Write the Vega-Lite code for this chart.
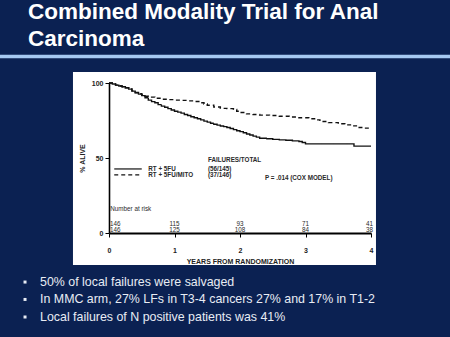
{
  "$schema": "https://vega.github.io/schema/vega-lite/v6.json",
  "width": 262,
  "height": 150,
  "autosize": {"type": "none"},
  "padding": {"left": 109, "top": 83, "right": 79, "bottom": 104},
  "background": "#0b2152",
  "data": {"values": [{"panel": "figure"}]},
  "title": {
    "text": ["Combined Modality Trial for Anal", "Carcinoma"],
    "anchor": "start",
    "frame": "group",
    "orient": "top",
    "dx": -81,
    "offset": 4,
    "font": "Liberation Sans",
    "fontSize": 22.5,
    "fontWeight": "bold",
    "color": "#ffffff",
    "lineHeight": 27
  },
  "config": {
    "view": {"stroke": null},
    "axis": {
      "labelFont": "Liberation Sans",
      "labelFontSize": 7,
      "labelFontWeight": "bold",
      "labelColor": "#222222",
      "labelOverlap": false,
      "titleFont": "Liberation Sans",
      "titleFontSize": 7,
      "titleFontWeight": "bold",
      "titleColor": "#222222",
      "domainColor": "#000000",
      "tickColor": "#000000",
      "grid": false
    },
    "text": {"font": "Liberation Sans", "fontSize": 6.3, "fontWeight": "bold", "color": "#2a2a2a"}
  },
  "datasets": {
    "survival": [
      {"year": 0, "pct": 100, "arm": "RT + 5FU"},
      {"year": 0.05, "pct": 99.3, "arm": "RT + 5FU"},
      {"year": 0.1, "pct": 98.6, "arm": "RT + 5FU"},
      {"year": 0.15, "pct": 98.0, "arm": "RT + 5FU"},
      {"year": 0.2, "pct": 97.5, "arm": "RT + 5FU"},
      {"year": 0.25, "pct": 96.8, "arm": "RT + 5FU"},
      {"year": 0.3, "pct": 95.9, "arm": "RT + 5FU"},
      {"year": 0.35, "pct": 94.6, "arm": "RT + 5FU"},
      {"year": 0.4, "pct": 93.5, "arm": "RT + 5FU"},
      {"year": 0.45, "pct": 92.6, "arm": "RT + 5FU"},
      {"year": 0.5, "pct": 91.6, "arm": "RT + 5FU"},
      {"year": 0.55, "pct": 90.2, "arm": "RT + 5FU"},
      {"year": 0.6, "pct": 88.6, "arm": "RT + 5FU"},
      {"year": 0.65, "pct": 87.6, "arm": "RT + 5FU"},
      {"year": 0.7, "pct": 86.8, "arm": "RT + 5FU"},
      {"year": 0.75, "pct": 85.6, "arm": "RT + 5FU"},
      {"year": 0.8, "pct": 84.6, "arm": "RT + 5FU"},
      {"year": 0.85, "pct": 83.8, "arm": "RT + 5FU"},
      {"year": 0.9, "pct": 82.9, "arm": "RT + 5FU"},
      {"year": 0.95, "pct": 82.0, "arm": "RT + 5FU"},
      {"year": 1.0, "pct": 81.2, "arm": "RT + 5FU"},
      {"year": 1.05, "pct": 80.6, "arm": "RT + 5FU"},
      {"year": 1.1, "pct": 79.9, "arm": "RT + 5FU"},
      {"year": 1.15, "pct": 79.0, "arm": "RT + 5FU"},
      {"year": 1.2, "pct": 78.3, "arm": "RT + 5FU"},
      {"year": 1.25, "pct": 77.5, "arm": "RT + 5FU"},
      {"year": 1.3, "pct": 76.8, "arm": "RT + 5FU"},
      {"year": 1.35, "pct": 76.2, "arm": "RT + 5FU"},
      {"year": 1.4, "pct": 75.4, "arm": "RT + 5FU"},
      {"year": 1.45, "pct": 74.6, "arm": "RT + 5FU"},
      {"year": 1.5, "pct": 73.9, "arm": "RT + 5FU"},
      {"year": 1.55, "pct": 73.2, "arm": "RT + 5FU"},
      {"year": 1.6, "pct": 72.5, "arm": "RT + 5FU"},
      {"year": 1.65, "pct": 71.9, "arm": "RT + 5FU"},
      {"year": 1.7, "pct": 71.3, "arm": "RT + 5FU"},
      {"year": 1.75, "pct": 70.9, "arm": "RT + 5FU"},
      {"year": 1.8, "pct": 70.3, "arm": "RT + 5FU"},
      {"year": 1.85, "pct": 69.7, "arm": "RT + 5FU"},
      {"year": 1.9, "pct": 68.9, "arm": "RT + 5FU"},
      {"year": 1.95, "pct": 68.2, "arm": "RT + 5FU"},
      {"year": 2.0, "pct": 67.6, "arm": "RT + 5FU"},
      {"year": 2.05, "pct": 66.8, "arm": "RT + 5FU"},
      {"year": 2.1, "pct": 66.0, "arm": "RT + 5FU"},
      {"year": 2.15, "pct": 65.3, "arm": "RT + 5FU"},
      {"year": 2.2, "pct": 64.6, "arm": "RT + 5FU"},
      {"year": 2.25, "pct": 63.9, "arm": "RT + 5FU"},
      {"year": 2.3, "pct": 63.2, "arm": "RT + 5FU"},
      {"year": 2.4, "pct": 62.8, "arm": "RT + 5FU"},
      {"year": 2.5, "pct": 62.4, "arm": "RT + 5FU"},
      {"year": 2.6, "pct": 62.1, "arm": "RT + 5FU"},
      {"year": 2.7, "pct": 61.8, "arm": "RT + 5FU"},
      {"year": 2.8, "pct": 61.4, "arm": "RT + 5FU"},
      {"year": 2.9, "pct": 61.0, "arm": "RT + 5FU"},
      {"year": 2.95, "pct": 60.3, "arm": "RT + 5FU"},
      {"year": 3.0, "pct": 59.4, "arm": "RT + 5FU"},
      {"year": 3.74, "pct": 57.9, "arm": "RT + 5FU"},
      {"year": 4.0, "pct": 57.9, "arm": "RT + 5FU"},
      {"year": 0, "pct": 100, "arm": "RT + 5FU/MITO"},
      {"year": 0.05, "pct": 99.3, "arm": "RT + 5FU/MITO"},
      {"year": 0.1, "pct": 98.6, "arm": "RT + 5FU/MITO"},
      {"year": 0.15, "pct": 98.0, "arm": "RT + 5FU/MITO"},
      {"year": 0.2, "pct": 97.5, "arm": "RT + 5FU/MITO"},
      {"year": 0.25, "pct": 96.8, "arm": "RT + 5FU/MITO"},
      {"year": 0.3, "pct": 96.0, "arm": "RT + 5FU/MITO"},
      {"year": 0.35, "pct": 94.8, "arm": "RT + 5FU/MITO"},
      {"year": 0.4, "pct": 93.7, "arm": "RT + 5FU/MITO"},
      {"year": 0.45, "pct": 92.8, "arm": "RT + 5FU/MITO"},
      {"year": 0.5, "pct": 92.0, "arm": "RT + 5FU/MITO"},
      {"year": 0.55, "pct": 91.2, "arm": "RT + 5FU/MITO"},
      {"year": 0.6, "pct": 90.6, "arm": "RT + 5FU/MITO"},
      {"year": 0.7, "pct": 89.8, "arm": "RT + 5FU/MITO"},
      {"year": 0.8, "pct": 89.2, "arm": "RT + 5FU/MITO"},
      {"year": 0.9, "pct": 88.9, "arm": "RT + 5FU/MITO"},
      {"year": 1.0, "pct": 88.6, "arm": "RT + 5FU/MITO"},
      {"year": 1.1, "pct": 88.4, "arm": "RT + 5FU/MITO"},
      {"year": 1.2, "pct": 88.1, "arm": "RT + 5FU/MITO"},
      {"year": 1.3, "pct": 87.7, "arm": "RT + 5FU/MITO"},
      {"year": 1.4, "pct": 86.8, "arm": "RT + 5FU/MITO"},
      {"year": 1.45, "pct": 86.0, "arm": "RT + 5FU/MITO"},
      {"year": 1.5, "pct": 85.2, "arm": "RT + 5FU/MITO"},
      {"year": 1.6, "pct": 84.0, "arm": "RT + 5FU/MITO"},
      {"year": 1.7, "pct": 83.1, "arm": "RT + 5FU/MITO"},
      {"year": 1.8, "pct": 82.9, "arm": "RT + 5FU/MITO"},
      {"year": 1.9, "pct": 82.4, "arm": "RT + 5FU/MITO"},
      {"year": 1.95, "pct": 81.2, "arm": "RT + 5FU/MITO"},
      {"year": 2.0, "pct": 80.3, "arm": "RT + 5FU/MITO"},
      {"year": 2.1, "pct": 79.4, "arm": "RT + 5FU/MITO"},
      {"year": 2.2, "pct": 79.0, "arm": "RT + 5FU/MITO"},
      {"year": 2.3, "pct": 78.6, "arm": "RT + 5FU/MITO"},
      {"year": 2.45, "pct": 78.3, "arm": "RT + 5FU/MITO"},
      {"year": 2.6, "pct": 77.8, "arm": "RT + 5FU/MITO"},
      {"year": 2.75, "pct": 77.3, "arm": "RT + 5FU/MITO"},
      {"year": 2.9, "pct": 76.8, "arm": "RT + 5FU/MITO"},
      {"year": 3.05, "pct": 76.2, "arm": "RT + 5FU/MITO"},
      {"year": 3.15, "pct": 75.4, "arm": "RT + 5FU/MITO"},
      {"year": 3.22, "pct": 74.3, "arm": "RT + 5FU/MITO"},
      {"year": 3.35, "pct": 73.6, "arm": "RT + 5FU/MITO"},
      {"year": 3.5, "pct": 72.8, "arm": "RT + 5FU/MITO"},
      {"year": 3.6, "pct": 72.1, "arm": "RT + 5FU/MITO"},
      {"year": 3.7, "pct": 71.4, "arm": "RT + 5FU/MITO"},
      {"year": 3.8, "pct": 70.3, "arm": "RT + 5FU/MITO"},
      {"year": 3.9, "pct": 69.9, "arm": "RT + 5FU/MITO"},
      {"year": 4.0, "pct": 69.9, "arm": "RT + 5FU/MITO"}
    ],
    "atRisk": [
      {"year": 0, "rt": 146, "mito": 146},
      {"year": 1, "rt": 115, "mito": 125},
      {"year": 2, "rt": 93, "mito": 108},
      {"year": 3, "rt": 71, "mito": 84},
      {"year": 4, "rt": 41, "mito": 38}
    ],
    "bullets": [
      {"n": 1, "line": "50% of local failures were salvaged"},
      {"n": 2, "line": "In MMC arm, 27% LFs in T3-4 cancers 27% and 17% in T1-2"},
      {"n": 3, "line": "Local failures of N positive patients was 41%"}
    ]
  },
  "layer": [
    {
      "mark": {"type": "rect", "color": "#ffffff"},
      "encoding": {
        "x": {"datum": -0.55, "type": "quantitative"},
        "x2": {"datum": 4.076},
        "y": {"datum": 107.3, "type": "quantitative"},
        "y2": {"datum": -21.3}
      }
    },
    {
      "mark": {"type": "rule", "color": "#a6c9f2", "strokeWidth": 3.5},
      "encoding": {"x": {"datum": -1.7}, "x2": {"datum": 5.3}, "y": {"datum": 117.7}}
    },
    {
      "data": {"name": "survival"},
      "mark": {"type": "line", "interpolate": "step-after", "color": "#111111", "strokeWidth": 1.4},
      "encoding": {
        "x": {"field": "year", "type": "quantitative",
              "scale": {"domain": [0, 4], "nice": false},
              "title": "YEARS FROM RANDOMIZATION",
              "axis": {"zindex": 2, "values": [0, 1, 2, 3, 4], "format": "d", "domainWidth": 2.2, "tickSize": 4, "labelPadding": 9, "titlePadding": 4, "labelFlush": false}},
        "y": {"field": "pct", "type": "quantitative",
              "scale": {"domain": [0, 100], "nice": false},
              "title": "% ALIVE",
              "axis": {"zindex": 2, "values": [0, 25, 50, 75, 100], "format": "d", "domainWidth": 1.6, "tickSize": 4, "labelPadding": 2, "titlePadding": 6, "labelFlush": false, "labelOverlap": false}},
        "detail": {"field": "arm"},
        "strokeDash": {"field": "arm", "type": "nominal", "legend": null,
                       "scale": {"domain": ["RT + 5FU", "RT + 5FU/MITO"], "range": [[1, 0], [4, 3]]}}
      }
    },
    {
      "mark": {"type": "rule", "color": "#111111", "strokeWidth": 1.2},
      "encoding": {"x": {"datum": 0.08}, "x2": {"datum": 0.5}, "y": {"datum": 42.7}}
    },
    {
      "mark": {"type": "rule", "color": "#111111", "strokeWidth": 1.2, "strokeDash": [4, 3]},
      "encoding": {"x": {"datum": 0.08}, "x2": {"datum": 0.5}, "y": {"datum": 38.7}}
    },
    {
      "mark": {"type": "text", "align": "left", "baseline": "middle", "text": "RT  +  5FU"},
      "encoding": {"x": {"datum": 0.6}, "y": {"datum": 42.7}}
    },
    {
      "mark": {"type": "text", "align": "left", "baseline": "middle", "text": "RT  +  5FU/MITO"},
      "encoding": {"x": {"datum": 0.6}, "y": {"datum": 38.7}}
    },
    {
      "mark": {"type": "text", "align": "left", "baseline": "middle", "text": "FAILURES/TOTAL"},
      "encoding": {"x": {"datum": 1.51}, "y": {"datum": 48.7}}
    },
    {
      "mark": {"type": "text", "align": "left", "baseline": "middle", "text": "(56/145)"},
      "encoding": {"x": {"datum": 1.51}, "y": {"datum": 42.7}}
    },
    {
      "mark": {"type": "text", "align": "left", "baseline": "middle", "text": "(37/146)"},
      "encoding": {"x": {"datum": 1.51}, "y": {"datum": 38.7}}
    },
    {
      "mark": {"type": "text", "align": "left", "baseline": "middle", "text": "P = .014 (COX MODEL)"},
      "encoding": {"x": {"datum": 2.38}, "y": {"datum": 36.7}}
    },
    {
      "mark": {"type": "text", "align": "left", "baseline": "middle", "text": "Number at risk", "fontWeight": "normal"},
      "encoding": {"x": {"datum": 0.02}, "y": {"datum": 16}}
    },
    {
      "data": {"name": "atRisk"},
      "transform": [{"filter": "datum.year == 0"}],
      "layer": [
        {"mark": {"type": "text", "align": "left", "baseline": "middle", "dx": 1, "fontWeight": "normal"},
         "encoding": {"x": {"field": "year", "type": "quantitative"}, "y": {"datum": 6.2}, "text": {"field": "rt"}}},
        {"mark": {"type": "text", "align": "left", "baseline": "middle", "dx": 1, "fontWeight": "normal"},
         "encoding": {"x": {"field": "year", "type": "quantitative"}, "y": {"datum": 1.8}, "text": {"field": "mito"}}}
      ]
    },
    {
      "data": {"name": "atRisk"},
      "transform": [{"filter": "datum.year > 0 && datum.year < 4"}],
      "layer": [
        {"mark": {"type": "text", "align": "center", "baseline": "middle", "fontWeight": "normal"},
         "encoding": {"x": {"field": "year", "type": "quantitative"}, "y": {"datum": 6.2}, "text": {"field": "rt"}}},
        {"mark": {"type": "text", "align": "center", "baseline": "middle", "fontWeight": "normal"},
         "encoding": {"x": {"field": "year", "type": "quantitative"}, "y": {"datum": 1.8}, "text": {"field": "mito"}}}
      ]
    },
    {
      "data": {"name": "atRisk"},
      "transform": [{"filter": "datum.year == 4"}],
      "layer": [
        {"mark": {"type": "text", "align": "right", "baseline": "middle", "dx": 2, "fontWeight": "normal"},
         "encoding": {"x": {"field": "year", "type": "quantitative"}, "y": {"datum": 6.2}, "text": {"field": "rt"}}},
        {"mark": {"type": "text", "align": "right", "baseline": "middle", "dx": 2, "fontWeight": "normal"},
         "encoding": {"x": {"field": "year", "type": "quantitative"}, "y": {"datum": 1.8}, "text": {"field": "mito"}}}
      ]
    },
    {
      "data": {"name": "bullets"},
      "transform": [{"filter": "datum.n == 1"}],
      "layer": [
        {"mark": {"type": "point", "shape": "square", "filled": true, "color": "#e8ecf4", "size": 9, "opacity": 1},
         "encoding": {"x": {"datum": -1.282}, "y": {"datum": -32.7}}},
        {"mark": {"type": "text", "align": "left", "baseline": "middle", "font": "Liberation Sans", "fontSize": 12.4, "fontWeight": "normal", "color": "#e8ecf4"},
         "encoding": {"x": {"datum": -1.053}, "y": {"datum": -32.7}, "text": {"field": "line"}}}
      ]
    },
    {
      "data": {"name": "bullets"},
      "transform": [{"filter": "datum.n == 2"}],
      "layer": [
        {"mark": {"type": "point", "shape": "square", "filled": true, "color": "#e8ecf4", "size": 9, "opacity": 1},
         "encoding": {"x": {"datum": -1.282}, "y": {"datum": -44.3}}},
        {"mark": {"type": "text", "align": "left", "baseline": "middle", "font": "Liberation Sans", "fontSize": 12.4, "fontWeight": "normal", "color": "#e8ecf4"},
         "encoding": {"x": {"datum": -1.053}, "y": {"datum": -44.3}, "text": {"field": "line"}}}
      ]
    },
    {
      "data": {"name": "bullets"},
      "transform": [{"filter": "datum.n == 3"}],
      "layer": [
        {"mark": {"type": "point", "shape": "square", "filled": true, "color": "#e8ecf4", "size": 9, "opacity": 1},
         "encoding": {"x": {"datum": -1.282}, "y": {"datum": -56}}},
        {"mark": {"type": "text", "align": "left", "baseline": "middle", "font": "Liberation Sans", "fontSize": 12.4, "fontWeight": "normal", "color": "#e8ecf4"},
         "encoding": {"x": {"datum": -1.053}, "y": {"datum": -56}, "text": {"field": "line"}}}
      ]
    }
  ]
}
